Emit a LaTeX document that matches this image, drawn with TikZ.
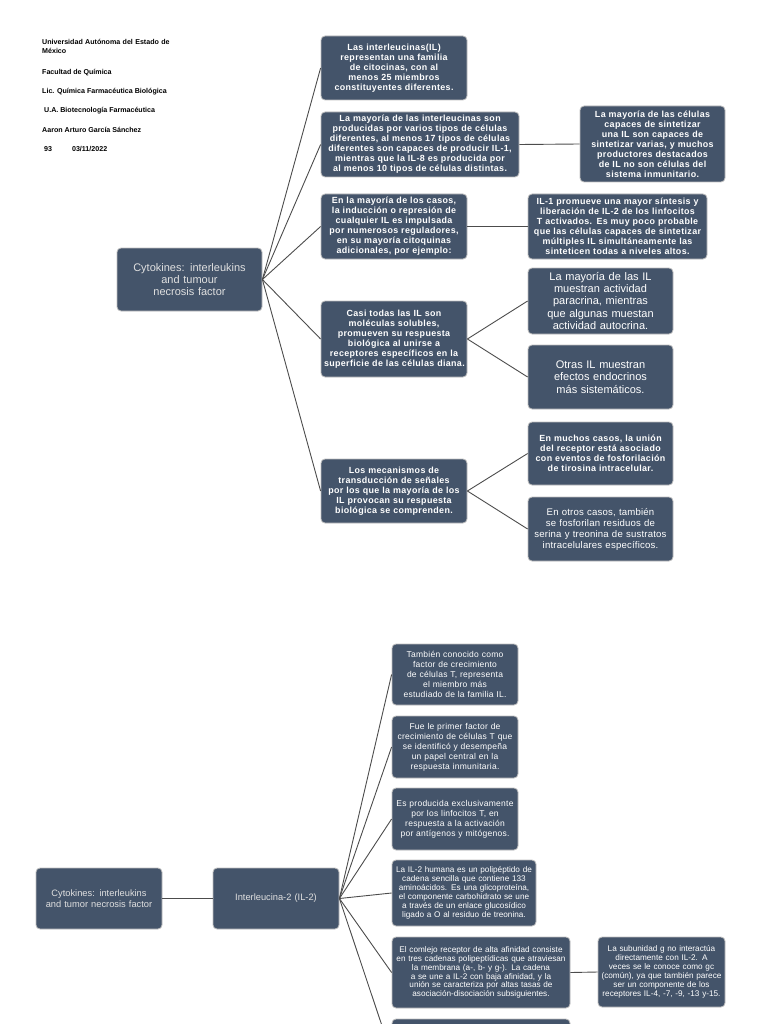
\documentclass[tikz,border=0pt]{standalone}
\usepackage{fontspec}
\setmainfont{Liberation Sans}
\newfontfamily\spcA[LetterSpace=4]{Liberation Sans}
\newfontfamily\spcB[LetterSpace=3]{Liberation Sans}
\newfontfamily\spcC[LetterSpace=2]{Liberation Sans}
\begin{document}
\begin{tikzpicture}[x=1pt,y=-1pt,
  bx/.style={draw=white!75!black,line width=0.8pt,fill={rgb,255:red,68;green,84;blue,106},rounded corners=4pt,text=white,align=center,inner sep=1pt,font=\spcA\fontsize{8.9}{10}\selectfont\bfseries,execute at begin node={\hyphenpenalty=10000\exhyphenpenalty=10000}},
  big/.style={font=\fontsize{11}{12.3}\selectfont,text=white!88!black},
  sm/.style={font=\spcB\fontsize{8.5}{10}\selectfont},
  xs/.style={font=\fontsize{8.2}{8.9}\selectfont},
  ln/.style={draw=black!70,line width=0.9pt},
  hd/.style={anchor=north west,font=\fontsize{7.1}{8.8}\selectfont\bfseries,inner sep=0pt,align=left}]
\useasboundingbox (0,0) rectangle (768,1024);
\clip (0,0) rectangle (768,1024);
\newcommand{\bxat}[6]{\node[bx,minimum width={#3-#1},minimum height={#4-#2},text width={#3-#1-6},#6] (#5) at ({(#1+#3)/2},{(#2+#4)/2})}
% header
\node[hd,text width=160pt] (h1) at (42,39) {Universidad Autónoma del Estado de\\México};
\node[hd] (h2) at (42,69) {Facultad de Química};
\node[hd] (h3) at (42,88) {Lic. Química Farmacéutica Biológica};
\node[hd] (h4) at (42,107) {\ U.A. Biotecnología Farmacéutica};
\node[hd] (h5) at (42,127) {Aaron Arturo García Sánchez};
\node[hd] (h6) at (42,146) {\ 93\hspace{20pt}03/11/2022};
% top map
\bxat{117}{248}{262}{311}{A}{big,text width=118}{Cytokines: interleukins and tumour necrosis factor};
\bxat{321}{36}{467}{100}{B1}{}{Las interleucinas(IL) representan una familia de citocinas, con al menos 25 miembros constituyentes diferentes.};
\bxat{321}{112}{519}{177}{B2}{}{La mayoría de las interleucinas son producidas por varios tipos de células diferentes, al menos 17 tipos de células diferentes son capaces de producir IL-1, mientras que la IL-8 es producida por al menos 10 tipos de células distintas.};
\bxat{321}{194}{467}{259}{B3}{}{En la mayoría de los casos, la inducción o represión de cualquier IL es impulsada por numerosos reguladores, en su mayoría citoquinas adicionales, por ejemplo:};
\bxat{321}{301}{467}{377}{B4}{}{Casi todas las IL son moléculas solubles, promueven su respuesta biológica al unirse a receptores específicos en la superficie de las células diana.};
\bxat{321}{459}{467}{523}{B5}{}{Los mecanismos de transducción de señales por los que la mayoría de los IL provocan su respuesta biológica se comprenden.};
\bxat{580}{106}{725}{182}{C1}{}{La mayoría de las células capaces de sintetizar una IL son capaces de sintetizar varias, y muchos productores destacados de IL no son células del sistema inmunitario.};
\bxat{528}{194}{707}{259}{C2}{}{IL-1 promueve una mayor síntesis y liberación de IL-2 de los linfocitos T activados. Es muy poco probable que las células capaces de sintetizar múltiples IL simultáneamente las sinteticen todas a niveles altos.};
\bxat{528}{268}{673}{334}{C3}{font=\fontsize{11}{12.3}\selectfont,text width=143}{La mayoría de las IL muestran actividad paracrina, mientras que algunas muestan actividad autocrina.};
\bxat{528}{345}{673}{409}{C4}{font=\fontsize{11}{12.3}\selectfont,text width=143}{Otras IL muestran efectos endocrinos más sistemáticos.};
\bxat{528}{422}{673}{485}{C5}{}{En muchos casos, la unión del receptor está asociado con eventos de fosforilación de tirosina intracelular.};
\bxat{528}{497}{673}{561}{C6}{font=\spcC\fontsize{9.6}{11}\selectfont}{En otros casos, también se fosforilan residuos de serina y treonina de sustratos intracelulares específicos.};
\foreach \b in {B1,B2,B3,B4,B5} \draw[ln] (A.east) -- (\b.west);
\draw[ln] (B2.east) -- (C1.west);
\draw[ln] (B3.east) -- (C2.west);
\draw[ln] (B4.east) -- (C3.west);
\draw[ln] (B4.east) -- (C4.west);
\draw[ln] (B5.east) -- (C5.west);
\draw[ln] (B5.east) -- (C6.west);
% bottom map
\bxat{36}{868}{162}{929}{D}{font=\fontsize{9.3}{10.5}\selectfont,text=white!88!black}{Cytokines: interleukins and tumor necrosis factor};
\bxat{213}{868}{339}{929}{E}{font=\fontsize{9.3}{10.5}\selectfont,text=white!88!black}{Interleucina-2 (IL-2)};
\bxat{392}{644}{518}{705}{F1}{sm}{También conocido como factor de crecimiento de células T, representa el miembro más estudiado de la familia IL.};
\bxat{392}{716}{518}{778}{F2}{sm}{Fue le primer factor de crecimiento de células T que se identificó y desempeña un papel central en la respuesta inmunitaria.};
\bxat{392}{788}{518}{850}{F3}{sm}{Es producida exclusivamente por los linfocitos T, en respuesta a la activación por antígenos y mitógenos.};
\bxat{392}{860}{536}{926}{F4}{xs}{La IL-2 humana es un polipéptido de cadena sencilla que contiene 133 aminoácidos. Es una glicoproteína, el componente carbohidrato se une a través de un enlace glucosídico ligado a O al residuo de treonina.};
\bxat{392}{937}{570}{1008}{F5}{xs}{El comlejo receptor de alta afinidad consiste en tres cadenas polipeptídicas que atraviesan la membrana (a-, b- y g-). La cadena a se une a IL-2 con baja afinidad, y la unión se caracteriza por altas tasas de asociación-disociación subsiguientes.};
\bxat{392}{1019}{570}{1090}{F6}{xs}{};
\bxat{598}{937}{725}{1007}{G}{xs}{La subunidad g no interactúa directamente con IL-2. A veces se le conoce como gc (común), ya que también parece ser un componente de los receptores IL-4, -7, -9, -13 y-15.};
\draw[ln] (D.east) -- (E.west);
\foreach \f in {F1,F2,F3,F4,F5,F6} \draw[ln] (E.east) -- (\f.west);
\draw[ln] (F5.east) -- (G.west);
\end{tikzpicture}
\end{document}
